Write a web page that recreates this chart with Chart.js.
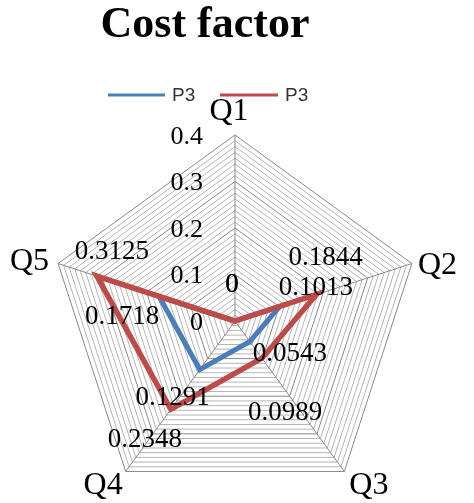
<!DOCTYPE html>
<html>
<head>
<meta charset="utf-8">
<script src="https://cdn.jsdelivr.net/npm/chart.js@4/dist/chart.umd.min.js"></script>
<style>
  html, body { margin: 0; padding: 0; background: #fff; }
  #wrap { width: 474px; height: 503px; position: relative; }
</style>
</head>
<body>
<div id="wrap"><canvas id="costChart"></canvas></div>
<script>
const categories = ["Q1", "Q2", "Q3", "Q4", "Q5"];
const seriesNames = ["P3", "P3"];
const bluePoints = [0, 0.1013, 0.0543, 0.1291, 0.1718];
const redPoints = [0, 0.1844, 0.0989, 0.2348, 0.3125];
const majorTicks = [0, 0.1, 0.2, 0.3, 0.4];
const minorStep = 0.0125;

const BLUE = "#4a7ebb";
const RED = "#be4b48";
const SERIF = "'Liberation Serif', 'DejaVu Serif', serif";

// label nudges from each point (px), tuned against the picture
const blueLabelShift = [[-3, -36], [36, -19], [40, 12], [-27, 28], [-37, 21]];
const redLabelShift = [[-3, -36], [9, -37], [23, 55], [-26, 31], [15, -24]];

const ringValues = [];
for (let k = 0; k * minorStep <= majorTicks[majorTicks.length - 1] + 1e-9; k++) {
  ringValues.push(+(k * minorStep).toFixed(4));
}

function isMajor(v) {
  return majorTicks.some(t => Math.abs(t - v) < 1e-6);
}

function fmtVal(v) {
  return v === 0 ? "0" : v.toFixed(4);
}

const overlay = {
  id: "overlay",
  afterLayout(chart) {
    const r = chart.scales.r;
    r.xCenter = 235;
    r.yCenter = 321;
    r.drawingArea = 186;
  },
  afterDraw(chart) {
    const ctx = chart.ctx;
    const r = chart.scales.r;
    ctx.save();

    // title
    ctx.fillStyle = "#000";
    ctx.font = "bold 44px " + SERIF;
    ctx.textAlign = "center";
    ctx.textBaseline = "alphabetic";
    ctx.fillText("Cost factor", 205, 37);

    // tick labels along Q1
    ctx.font = "26px " + SERIF;
    ctx.textAlign = "right";
    ctx.textBaseline = "middle";
    majorTicks.forEach(t => {
      const y = r.yCenter - r.getDistanceFromCenterForValue(t);
      ctx.fillText(String(t), 203, y + 2);
    });

    // category labels
    ctx.font = "32px " + SERIF;
    const place = [
      { align: "center", dx: -6, dy: -23 },
      { align: "left", dx: 6, dy: 2 },
      { align: "left", dx: 5, dy: 14 },
      { align: "right", dx: -3, dy: 14 },
      { align: "right", dx: -9, dy: -2 }
    ];
    categories.forEach((c, i) => {
      const p = r.getPointPosition(i, r.drawingArea);
      ctx.textAlign = place[i].align;
      ctx.fillText(c, p.x + place[i].dx, p.y + place[i].dy);
    });

    // data labels
    ctx.font = "27px " + SERIF;
    ctx.textAlign = "center";
    const shifts = [blueLabelShift, redLabelShift];
    chart.data.datasets.forEach((ds, di) => {
      const meta = chart.getDatasetMeta(di);
      meta.data.forEach((pt, i) => {
        const s = shifts[di][i];
        ctx.fillText(fmtVal(ds.data[i]), pt.x + s[0], pt.y + s[1]);
      });
    });

    // legend
    const legend = [
      { color: BLUE, x1: 108, x2: 165, tx: 172, name: seriesNames[0] },
      { color: RED, x1: 220, x2: 278, tx: 285, name: seriesNames[1] }
    ];
    ctx.font = "19px 'Liberation Sans', Arial, sans-serif";
    ctx.textAlign = "left";
    legend.forEach(l => {
      ctx.strokeStyle = l.color;
      ctx.lineWidth = 3;
      ctx.beginPath();
      ctx.moveTo(l.x1, 95);
      ctx.lineTo(l.x2, 95);
      ctx.stroke();
      ctx.fillStyle = "#333";
      ctx.fillText(l.name, l.tx, 96);
    });

    ctx.restore();
  }
};

new Chart(document.getElementById("costChart"), {
  type: "radar",
  data: {
    labels: categories,
    datasets: [
      { label: seriesNames[0], data: bluePoints, borderColor: BLUE, borderWidth: 5,
        pointRadius: 0, fill: false, order: 2, clip: false },
      { label: seriesNames[1], data: redPoints, borderColor: RED, borderWidth: 5.5,
        pointRadius: 0, fill: false, order: 1, clip: false }
    ]
  },
  options: {
    responsive: true,
    maintainAspectRatio: false,
    animation: false,
    layout: { padding: 0 },
    plugins: { legend: { display: false }, title: { display: false }, tooltip: { enabled: false } },
    elements: { line: { tension: 0, borderJoinStyle: "miter" } },
    scales: {
      r: {
        min: 0,
        max: 0.4,
        afterBuildTicks: s => { s.ticks = ringValues.map(v => ({ value: v })); },
        ticks: { display: false },
        pointLabels: { display: false },
        angleLines: { color: "#888888", lineWidth: 1 },
        grid: {
          color: ctx => isMajor(ctx.tick.value) ? "#888888" : "#b4b4b4",
          lineWidth: 1
        }
      }
    }
  },
  plugins: [overlay]
});
</script>
</body>
</html>
